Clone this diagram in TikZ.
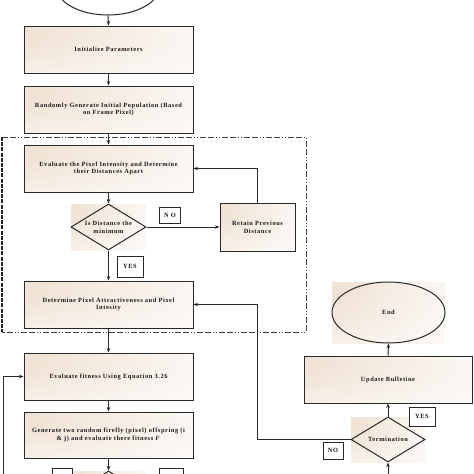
\documentclass[tikz,border=0pt]{standalone}
\usepackage{fontspec}
\setmainfont{Liberation Serif}
\newfontfamily\lblfont[LetterSpace=9]{Liberation Serif}
\usetikzlibrary{shapes.geometric,arrows.meta}
\definecolor{boxtan}{RGB}{236,218,200}
\definecolor{linegray}{RGB}{40,40,40}
\pgfdeclareradialshading{tanglow}{\pgfpoint{-50bp}{25bp}}{color(0bp)=(boxtan); color(20bp)=(boxtan!75!white); color(45bp)=(boxtan!30!white); color(75bp)=(white); color(100bp)=(white)}
\tikzset{
  lbl/.style={font=\lblfont\fontsize{6.4}{7.8}\selectfont\bfseries, text=black!90, align=center},
  procbox/.style={draw=linegray, line width=1pt, shading=tanglow, minimum width=169pt, minimum height=47pt, inner sep=0pt, lbl},
  decide/.style={draw=linegray, line width=1pt, diamond, aspect=1.63, minimum width=75pt, minimum height=46pt, inner sep=0pt, lbl},
  shadebg/.style={shading=tanglow, draw=none},
  tagbox/.style={draw=linegray, line width=0.9pt, fill=white, inner sep=0pt, lbl},
  flow/.style={draw=linegray, line width=1pt, -{Stealth[length=4.5pt,width=3.5pt]}},
  frame/.style={draw=black!75, line width=1pt, dash pattern=on 6pt off 2pt on 6pt off 2pt on 1pt off 2pt on 1pt off 2pt}
}
\begin{document}
\begin{tikzpicture}[x=1pt,y=-1pt]
\useasboundingbox (0,0) rectangle (474,474);
\clip (0,0) rectangle (474,474);
% dash-dot frame
\draw[frame] (2,137) -- (306,137) -- (306,332) -- (2,332);
\draw[draw=black!85, line width=1.6pt, dash pattern=on 4pt off 1.2pt] (2,137) -- (2,332);
% start ellipse (cut off)
\node[ellipse, draw=linegray, line width=1pt, fill=white, minimum width=104pt, minimum height=58pt] (ts) at (108,-14) {};
% left column
\node[procbox] (b1) at (108.5,49.5) {Initialize Parameters};
\node[procbox] (b2) at (108.5,109.5) {Randomly Generate Initial Population (Based\\on Frame Pixel)};
\node[procbox] (b3) at (108.5,168.5) {Evaluate the Pixel Intensity and Determine\\their Distances Apart};
\shade[shadebg] (71,204) rectangle (146,250);
\node[decide] (d1) at (108.5,227) {Is Distance the\\minimum};
\node[procbox, minimum width=75pt, minimum height=48pt] (ret) at (257.5,227) {Retain Previous\\Distance};
\node[procbox] (b4) at (108.5,304.5) {Determine Pixel Attractiveness and Pixel\\Intesity};
\node[procbox] (b5) at (108.5,376.5) {Evaluate fitness Using Equation 3.26};
\node[procbox, minimum height=46pt] (b6) at (108.5,435) {Generate two random firefly (pixel) offspring (i\\\& j) and evaluate there fitness \textit{F}};
\shade[shadebg] (71,471) rectangle (146,517);
\node[decide] (d2) at (108.5,494) {};
% tags
\node[tagbox, minimum width=21pt, minimum height=16pt] (no1) at (170,215) {N O};
\node[tagbox, minimum width=26pt, minimum height=21pt] (yes1) at (130,266.5) {YES};
\node[tagbox, minimum width=20pt, minimum height=18pt] (t3) at (62,477) {};
\node[tagbox, minimum width=24pt, minimum height=19pt] (t4) at (171,477.5) {};
% right column
\shade[shadebg] (332,282) rectangle (445,343);
\node[ellipse, draw=linegray, line width=1pt, minimum width=113pt, minimum height=61pt, lbl] (end) at (388.5,312.5) {End};
\node[procbox, minimum width=168pt] (upd) at (388,379.5) {Update Bulletine};
\shade[shadebg] (351,417) rectangle (425,462);
\node[decide, minimum width=74pt, minimum height=45pt] (term) at (388,439.5) {Termination};
\node[tagbox, minimum width=26pt, minimum height=19pt] (yes2) at (422,416.5) {YES};
\node[tagbox, minimum width=20pt, minimum height=17pt] (no2) at (333,450.5) {NO};
% coordinates
\coordinate (c1) at (257,304.5);
\coordinate (bl) at (3,480);
\coordinate (bt) at (388,480);
% connectors
\draw[flow] (ts.south) -- (b1.north);
\draw[flow] (b1) -- (b2);
\draw[flow] (b2) -- (b3);
\draw[flow] (b3) -- (d1);
\draw[flow] (d1.east) -- (ret.west);
\draw[flow] (ret.north) |- (b3.east);
\draw[flow] (d1.south) -- (b4.north);
\draw[flow] (b4) -- (b5);
\draw[flow] (b5) -- (b6);
\draw[flow] (b6.south) -- (d2.north);
\draw[flow] (term.west) -| (c1) -- (b4.east);
\draw[flow] (bl) |- (b5.west);
\draw[flow] (upd.north) -- (end.south);
\draw[flow] (term.north) -- (upd.south);
\draw[flow] (bt) -- (term.south);
\end{tikzpicture}
\end{document}
